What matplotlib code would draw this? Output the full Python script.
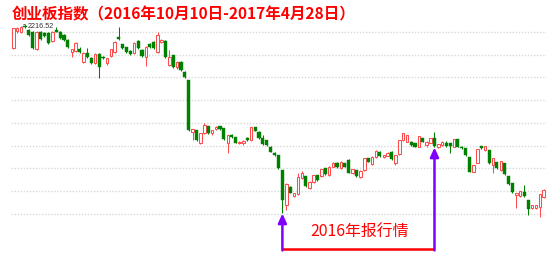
import matplotlib
matplotlib.use("Agg")
import matplotlib.pyplot as plt
import numpy as np

# ChiNext index daily candles, 2016-10-10 .. 2017-04-28
opens = [2164.1, 2202.2, 2200.7, 2213.2, 2204.4, 2200.7, 2161.9, 2200.7, 2198.5, 2198.5,
         2180.9, 2204.4, 2200.7, 2193.4, 2182.4, 2156.7, 2158.9, 2162.6, 2134.7, 2153.8,
         2142.8, 2132.5, 2151.6, 2145.7, 2132.5, 2147.2, 2156.7, 2188.3, 2173.6, 2166.3,
         2158.9, 2153.1, 2180.9, 2160.4, 2145.7, 2173.6, 2178.0, 2156.0, 2178.0, 2180.9,
         2127.4, 2149.4, 2123.7, 2134.7, 2112.7, 2094.4, 1980.7, 1984.4, 1956.5, 1977.8,
         1993.2, 1978.5, 1986.6, 1993.2, 1988.8, 1956.5, 1973.4, 1969.0, 1955.1, 1956.5,
         1966.8, 1962.4, 1991.0, 1980.7, 1966.8, 1962.4, 1947.7, 1934.5, 1929.4, 1896.4,
         1819.4, 1859.7, 1839.2, 1843.6, 1878.8, 1883.2, 1856.1, 1870.7, 1885.4, 1883.2,
         1900.8, 1885.4, 1903.7, 1912.5, 1900.1, 1911.8, 1918.4, 1889.1, 1896.4, 1880.3,
         1896.4, 1922.8, 1909.6, 1924.3, 1936.7, 1924.3, 1928.3, 1936.7, 1912.5, 1930.9,
         1962.4, 1958.7, 1958.7, 1955.8, 1947.7, 1966.8, 1951.4, 1956.5, 1966.8, 1947.7,
         1951.4, 1955.8, 1955.8, 1947.7, 1964.6, 1947.7, 1944.8, 1925.0, 1892.7, 1912.5,
         1949.2, 1940.4, 1940.4, 1907.4, 1914.0, 1896.4, 1911.8, 1883.2, 1867.8, 1841.4,
         1839.2, 1848.0, 1830.4, 1812.8, 1812.8, 1815.0, 1837.0]
closes = [2208.1, 2208.8, 2211.7, 2211.0, 2193.4, 2164.1, 2200.7, 2183.9, 2191.2, 2176.5,
          2200.7, 2200.7, 2186.1, 2182.4, 2166.3, 2161.9, 2176.5, 2156.7, 2154.5, 2145.7,
          2131.8, 2151.6, 2123.7, 2142.1, 2142.8, 2162.6, 2178.7, 2183.9, 2164.1, 2156.7,
          2151.6, 2176.5, 2164.1, 2147.2, 2167.7, 2167.0, 2164.8, 2193.4, 2182.4, 2144.3,
          2145.0, 2123.7, 2134.7, 2116.4, 2100.3, 1984.4, 1986.6, 1962.4, 1977.8, 1995.4,
          1978.5, 1984.4, 1991.7, 1986.6, 1964.6, 1973.4, 1969.0, 1956.5, 1958.7, 1960.9,
          1962.4, 1991.0, 1982.9, 1966.8, 1953.6, 1951.4, 1936.7, 1929.4, 1900.1, 1830.4,
          1865.6, 1846.5, 1845.8, 1881.0, 1889.8, 1861.2, 1870.7, 1885.4, 1874.4, 1898.6,
          1887.6, 1903.7, 1912.5, 1903.7, 1914.7, 1903.7, 1890.5, 1898.6, 1883.2, 1894.9,
          1922.8, 1914.7, 1925.7, 1938.9, 1927.2, 1929.4, 1934.5, 1919.9, 1929.4, 1962.4,
          1977.8, 1973.4, 1951.4, 1947.7, 1971.2, 1958.7, 1958.7, 1966.8, 1949.2, 1953.6,
          1958.7, 1949.2, 1949.2, 1964.6, 1947.7, 1944.1, 1929.4, 1892.7, 1907.4, 1942.6,
          1944.1, 1949.2, 1911.8, 1922.8, 1900.8, 1916.2, 1887.6, 1865.6, 1848.0, 1845.8,
          1850.2, 1839.2, 1810.6, 1819.4, 1819.4, 1843.6, 1852.4]
highs = [2209.9, 2211.0, 2213.2, 2216.52, 2206.6, 2202.2, 2202.2, 2202.2, 2200.0, 2200.0,
         2202.2, 2211.0, 2202.2, 2195.6, 2184.6, 2162.6, 2178.0, 2167.7, 2156.0, 2164.1,
         2145.0, 2153.8, 2153.8, 2147.2, 2143.9, 2163.7, 2180.2, 2210.3, 2174.7, 2167.0,
         2160.4, 2178.0, 2182.4, 2162.6, 2169.2, 2175.8, 2180.2, 2200.7, 2184.6, 2182.4,
         2160.4, 2150.5, 2136.2, 2136.2, 2114.2, 2095.5, 1987.7, 1985.5, 1978.9, 2000.5,
         1994.3, 1985.5, 1993.2, 1994.3, 1989.9, 1974.5, 1975.6, 1970.1, 1960.2, 1962.4,
         1969.0, 1992.1, 1992.1, 1982.2, 1973.4, 1963.5, 1949.2, 1936.0, 1930.5, 1897.5,
         1867.8, 1861.2, 1846.9, 1889.8, 1894.2, 1884.3, 1872.2, 1886.5, 1886.5, 1899.7,
         1901.9, 1905.2, 1914.0, 1914.0, 1916.2, 1912.9, 1920.6, 1899.7, 1897.5, 1896.4,
         1923.9, 1923.9, 1927.2, 1940.4, 1938.2, 1930.5, 1936.0, 1938.2, 1930.5, 1963.5,
         1978.9, 1974.5, 1960.2, 1956.9, 1972.3, 1967.9, 1960.2, 1967.9, 1980.7, 1954.7,
         1960.2, 1960.2, 1956.9, 1965.7, 1965.7, 1949.2, 1945.9, 1926.1, 1908.5, 1943.7,
         1950.3, 1950.3, 1941.5, 1923.9, 1915.1, 1917.3, 1912.9, 1884.3, 1868.9, 1846.9,
         1851.3, 1863.4, 1831.5, 1820.5, 1820.5, 1844.7, 1854.6]
lows = [2162.6, 2197.8, 2198.9, 2208.8, 2191.2, 2162.6, 2160.4, 2182.4, 2189.0, 2174.7,
        2179.1, 2200.0, 2184.6, 2180.2, 2164.8, 2145.7, 2157.1, 2153.1, 2132.9, 2143.9,
        2129.6, 2130.7, 2098.8, 2140.6, 2127.4, 2145.0, 2154.9, 2182.4, 2162.6, 2154.9,
        2149.4, 2151.6, 2162.6, 2145.7, 2125.2, 2164.8, 2162.6, 2153.8, 2175.8, 2142.8,
        2126.3, 2121.9, 2117.9, 2114.2, 2098.8, 1982.2, 1962.4, 1960.2, 1954.7, 1975.6,
        1976.7, 1974.5, 1985.5, 1985.5, 1962.4, 1934.5, 1967.9, 1955.1, 1953.6, 1952.5,
        1961.3, 1961.3, 1982.2, 1965.7, 1952.5, 1950.3, 1936.0, 1928.3, 1898.6, 1801.8,
        1808.4, 1845.1, 1837.0, 1842.5, 1876.6, 1860.1, 1854.6, 1868.9, 1872.2, 1882.1,
        1886.5, 1884.3, 1903.0, 1901.9, 1898.6, 1903.0, 1889.8, 1887.6, 1881.0, 1878.8,
        1895.3, 1914.0, 1908.5, 1922.8, 1926.1, 1922.8, 1927.2, 1918.4, 1907.4, 1929.4,
        1961.3, 1958.0, 1950.3, 1947.0, 1947.0, 1958.0, 1947.0, 1955.8, 1947.0, 1944.8,
        1950.3, 1947.0, 1933.1, 1947.0, 1947.0, 1942.6, 1928.3, 1892.0, 1892.0, 1911.8,
        1942.6, 1939.3, 1910.7, 1889.8, 1899.7, 1895.3, 1886.5, 1864.5, 1846.9, 1812.8,
        1838.1, 1838.1, 1797.4, 1811.7, 1811.7, 1793.0, 1835.9]

grid_levels = [2200, 2150, 2100, 2050, 2000, 1950, 1900, 1850, 1800]
title = "创业板指数（2016年10月10日-2017年4月28日）"
span_label = "2016年报行情"
span_start, span_end = 69, 108   # trading-day indices marked by the arrows

UP = "#ff4d4d"
DOWN = "#008000"
PURPLE = "#8000ff"

o = np.array(opens); c = np.array(closes)
h = np.array(highs); l = np.array(lows)
n = len(o)
idx = np.arange(n)

fig = plt.figure(figsize=(5.58, 2.61), dpi=100)
ax = fig.add_axes([0, 0, 1, 1])
ax.set_xlim(-3.41, 139.67)
ax.set_ylim(1696.2, 2270.4)
ax.axis("off")

# dotted horizontal grid
ax.hlines(grid_levels, -0.6, 136.6, colors="#d9d9d9", linewidth=1.0,
          linestyles=(0, (1, 1.2)), zorder=0)

up = c >= o
colors = np.where(up, UP, DOWN)
lw = 0.75
ax.vlines(idx, l, h, colors=colors, linewidth=lw, zorder=2)
bottom = np.minimum(o, c)
height = np.maximum(np.abs(c - o), 0.6)
ax.bar(idx[up], height[up], bottom=bottom[up], width=0.62,
       facecolor="white", edgecolor=UP, linewidth=lw, zorder=3)
ax.bar(idx[~up], height[~up], bottom=bottom[~up], width=0.78,
       facecolor=DOWN, edgecolor=DOWN, linewidth=0.3, zorder=3)

# highest value marker
imax = int(np.argmax(h))
ax.annotate("", xy=(imax - 0.3, h[imax]), xytext=(imax + 0.6, h[imax]),
            arrowprops=dict(arrowstyle="-", color="#444444", lw=0.7))
ax.text(imax + 0.75, h[imax] - 4, f"{h[imax]:.2f}", fontsize=5.2,
        family="Liberation Sans", color="#333333", va="center", ha="left")

# span markers along the bottom
base = 1695.0 + (261 - 248.5) * 2.2
for i, tip in ((span_start, l[span_start]), (span_end, l[span_end])):
    ax.annotate("", xy=(i, tip - 1), xytext=(i, base - 3),
                arrowprops=dict(arrowstyle="-|>,head_width=0.25,head_length=0.55",
                                color=PURPLE, lw=1.8, shrinkA=0, shrinkB=0),
                zorder=5)
ax.plot([span_start, span_end], [base, base], color="#ff0000", lw=1.8,
        solid_capstyle="butt", zorder=4)
ax.text((span_start + span_end) / 2 + 0.3, base + 36, span_label, fontsize=11.4,
        family=["Noto Sans CJK SC", "DejaVu Sans"], color="#ff0000",
        ha="center", va="center")

fig.text(12 / 558, 1 - 14 / 261, title, fontsize=11.2, fontweight="bold",
         family=["Noto Sans CJK SC", "DejaVu Sans"], color="#ff0000",
         ha="left", va="center")

fig.savefig("out.png", dpi=100, facecolor="white")
